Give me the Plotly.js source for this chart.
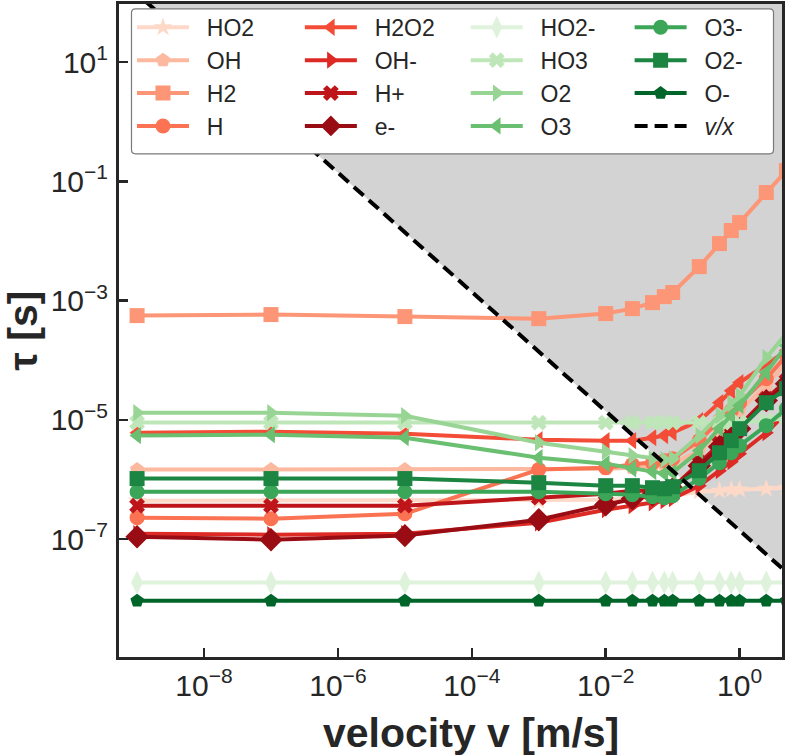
<!DOCTYPE html>
<html>
<head>
<meta charset="utf-8">
<script src="https://cdn.plot.ly/plotly-3.0.1.min.js"></script>
<style>
  html, body { margin: 0; padding: 0; background: #ffffff; }
  #chart { width: 789px; height: 755px; }
</style>
</head>
<body>
<div id="chart"></div>
<script>
// Flow velocity v [m/s] at which each species' time constant was evaluated
const velocity = [1e-9, 1e-7, 1e-5, 1e-3, 1e-2, 2.5e-2, 5e-2, 7.5e-2, 0.1, 0.25, 0.5, 0.75, 1, 2.5, 5];

// Characteristic time tau [s] of each species
const tauHO2  = [4.43e-7, 4.43e-7, 4.43e-7, 4.43e-7, 4.60e-7, 4.79e-7, 4.97e-7, 5.16e-7, 5.37e-7, 6.27e-7, 6.52e-7, 6.78e-7, 6.78e-7, 7.03e-7, 7.31e-7];
const tauOH   = [1.47e-6, 1.47e-6, 1.47e-6, 1.47e-6, 1.52e-6, 1.58e-6, 1.64e-6, 1.71e-6, 1.85e-6, 3.05e-6, 6.12e-6, 9.72e-6, 1.43e-5, 3.76e-5, 9.14e-5];
const tauH2   = [5.62e-4, 5.85e-4, 5.41e-4, 5.00e-4, 6.08e-4, 7.36e-4, 9.29e-4, 1.17e-3, 1.37e-3, 3.73e-3, 9.08e-3, 1.50e-2, 2.04e-2, 6.51e-2, 0.152];
const tauH    = [2.30e-7, 2.21e-7, 2.68e-7, 1.47e-6, 1.58e-6, 1.78e-6, 1.92e-6, 2.07e-6, 2.24e-6, 4.50e-6, 9.72e-6, 1.43e-5, 1.95e-5, 4.93e-5, 1.20e-4];
const tauH2O2 = [6.12e-6, 6.37e-6, 5.89e-6, 4.67e-6, 4.50e-6, 4.50e-6, 5.05e-6, 5.46e-6, 6.12e-6, 9.72e-6, 1.95e-5, 3.10e-5, 4.23e-5, 8.47e-5, 1.46e-4];
const tauOHm  = [1.24e-7, 1.19e-7, 1.24e-7, 1.89e-7, 3.13e-7, 3.65e-7, 4.09e-7, 4.43e-7, 4.79e-7, 7.91e-7, 1.41e-6, 2.00e-6, 2.72e-6, 6.12e-6, 1.32e-5];
const tauHp   = [3.65e-7, 3.65e-7, 3.65e-7, 4.97e-7, 5.79e-7, 6.52e-7, 6.52e-7, 6.52e-7, 7.31e-7, 1.92e-6, 4.00e-6, 5.89e-6, 8.02e-6, 2.28e-5, 4.56e-5];
const tauEm   = [1.10e-7, 9.82e-8, 1.15e-7, 2.12e-7, 3.79e-7, 4.79e-7, 5.58e-7, 6.03e-7, 7.03e-7, 1.71e-6, 3.56e-6, 5.25e-6, 7.14e-6, 2.11e-5, 4.06e-5];
const tauHO2m = [1.88e-8, 1.88e-8, 1.88e-8, 1.88e-8, 1.88e-8, 1.88e-8, 1.88e-8, 1.88e-8, 1.88e-8, 1.88e-8, 1.88e-8, 1.88e-8, 1.88e-8, 1.88e-8, 1.88e-8];
const tauHO3  = [9.02e-6, 9.02e-6, 9.02e-6, 9.02e-6, 9.02e-6, 9.02e-6, 9.02e-6, 9.02e-6, 9.02e-6, 9.02e-6, 9.02e-6, 9.02e-6, 9.02e-6, 9.72e-6, 1.09e-5];
const tauO2   = [1.32e-5, 1.32e-5, 1.18e-5, 4.16e-6, 2.94e-6, 2.52e-6, 2.24e-6, 2.16e-6, 2.24e-6, 5.46e-6, 1.18e-5, 1.87e-5, 2.56e-5, 1.11e-4, 2.81e-4];
const tauO3   = [5.46e-6, 5.66e-6, 5.05e-6, 2.33e-6, 1.85e-6, 1.52e-6, 1.36e-6, 1.26e-6, 1.31e-6, 3.05e-6, 7.14e-6, 1.18e-5, 1.74e-5, 6.22e-5, 1.77e-4];
const tauO3m  = [6.27e-7, 6.27e-7, 6.27e-7, 6.27e-7, 5.79e-7, 5.58e-7, 5.16e-7, 4.97e-7, 5.37e-7, 1.04e-6, 1.92e-6, 2.82e-6, 3.71e-6, 8.02e-6, 1.55e-5];
const tauO2m  = [1.04e-6, 1.04e-6, 1.04e-6, 8.87e-7, 7.91e-7, 7.91e-7, 7.31e-7, 7.03e-7, 7.60e-7, 1.41e-6, 2.82e-6, 4.50e-6, 7.14e-6, 1.95e-5, 3.35e-5];
const tauOm   = [9.29e-9, 9.29e-9, 9.29e-9, 9.29e-9, 9.29e-9, 9.29e-9, 9.29e-9, 9.29e-9, 9.29e-9, 9.29e-9, 9.29e-9, 9.29e-9, 9.29e-9, 9.29e-9, 9.29e-9];

// Transport time line (v/x) and the region above it
const vLine   = [1e-10, 10];
const tauLine = [1.4e3, 1.4e-8];
const vShade   = [1e-10, 10, 10];
const tauShade = [1.4e3, 1.4e-8, 1e3];

// Species names and the series drawn for them
const speciesNames = ['HO2', 'OH', 'H2', 'H', 'H2O2', 'OH-', 'H+', 'e-', 'HO2-', 'HO3', 'O2', 'O3', 'O3-', 'O2-', 'O-'];
const speciesTau = [tauHO2, tauOH, tauH2, tauH, tauH2O2, tauOHm, tauHp, tauEm, tauHO2m, tauHO3, tauO2, tauO3, tauO3m, tauO2m, tauOm];

// Axis ticks
const xTickVals = [1e-8, 1e-6, 1e-4, 1e-2, 1];
const xTickText = ['10<sup>−8</sup>', '10<sup>−6</sup>', '10<sup>−4</sup>', '10<sup>−2</sup>', '10<sup>0</sup>'];
const yTickVals = [1e1, 1e-1, 1e-3, 1e-5, 1e-7, 1e-9];
const yTickText = ['10<sup>1</sup>', '10<sup>−1</sup>', '10<sup>−3</sup>', '10<sup>−5</sup>', '10<sup>−7</sup>', '10<sup>−9</sup>'];

// Styling: Reds for neutral/positive species, Greens for the oxygen anions
const colors = ['#fed9c8', '#fcb99f', '#fc9676', '#fb7353', '#f34c37', '#dd2a25', '#be151a', '#990c13',
                '#dff3dc', '#bfe6b9', '#98d594', '#6abf71', '#3ba558', '#1c8542', '#006529'];
const symbols = ['star', 'pentagon', 'square', 'circle', 'triangle-left', 'triangle-right', 'x', 'diamond',
                 'diamond-tall', 'x', 'triangle-right', 'triangle-left', 'circle', 'square', 'pentagon'];
const sizes = [14, 15, 15, 15, 15, 15, 14, 18, 17, 14, 15, 15, 15, 15, 14];
const legendIds = ['legend', 'legend', 'legend', 'legend', 'legend2', 'legend2', 'legend2', 'legend2',
                   'legend3', 'legend3', 'legend3', 'legend3', 'legend4', 'legend4', 'legend4'];

const FONT = 'Liberation Sans, Arial, Helvetica, sans-serif';
const INK = '#262626';
const PAD = '\u00a0\u00a0';   // gap between legend handle and label

const traces = [];

// shaded region where transport is faster than the species' time constant
traces.push({
  x: vShade, y: tauShade, type: 'scatter', mode: 'lines',
  fill: 'toself', fillcolor: '#d3d3d3', line: {width: 0, color: '#d3d3d3'},
  showlegend: false, hoverinfo: 'skip'
});

speciesNames.forEach((name, i) => {
  traces.push({
    x: velocity, y: speciesTau[i], name: PAD + name,
    type: 'scatter', mode: 'lines+markers',
    line: {color: colors[i], width: 4},
    marker: {color: colors[i], symbol: symbols[i], size: sizes[i], line: {width: 0}},
    legend: legendIds[i]
  });
});

traces.push({
  x: vLine, y: tauLine, name: PAD + '<i>v/x</i>',
  type: 'scatter', mode: 'lines',
  line: {color: '#000000', width: 4, dash: '13px,7px'},
  legend: 'legend4'
});

// plot area in pixels, used to place the legend columns and titles
const plotL = 119, plotR = 782.5, plotT = 4.2, plotB = 657;
const W = 789, H = 755;
const px = v => (v - plotL) / (plotR - plotL);
const py = v => (plotB - v) / (plotB - plotT);

const legendBase = {
  xanchor: 'left', yanchor: 'top', orientation: 'v',
  bgcolor: 'rgba(0,0,0,0)', borderwidth: 0,
  font: {family: FONT, size: 23, color: INK},
  itemwidth: 52
};
const colLeft = [132, 300, 466, 630];
const legTop = py(6);

// legend frame with rounded corners
const bx0 = px(131.5), bx1 = px(774), by0 = py(154), by1 = py(9);
const rx = 4 / (plotR - plotL), ry = 4 / (plotB - plotT);
const framePath = `M ${bx0 + rx},${by1} L ${bx1 - rx},${by1} Q ${bx1},${by1} ${bx1},${by1 - ry} ` +
  `L ${bx1},${by0 + ry} Q ${bx1},${by0} ${bx1 - rx},${by0} L ${bx0 + rx},${by0} ` +
  `Q ${bx0},${by0} ${bx0},${by0 + ry} L ${bx0},${by1 - ry} Q ${bx0},${by1} ${bx0 + rx},${by1} Z`;

const axisCommon = {
  type: 'log', showline: true, linewidth: 3, linecolor: INK, mirror: true,
  ticks: 'inside', ticklen: 9, tickwidth: 2.5, tickcolor: INK,
  showgrid: false, zeroline: false,
  tickfont: {family: FONT, size: 30, color: INK}
};

const layout = {
  width: W, height: H,
  margin: {l: plotL, r: W - plotR, t: plotT, b: H - plotB, pad: 0},
  paper_bgcolor: '#ffffff', plot_bgcolor: '#ffffff',
  font: {family: FONT, color: INK},
  showlegend: true,
  xaxis: Object.assign({}, axisCommon, {
    range: [-9.270, 0.633],
    tickmode: 'array', tickvals: xTickVals, ticktext: xTickText
  }),
  yaxis: Object.assign({}, axisCommon, {
    range: [-8.975, 1.975],
    tickmode: 'array', tickvals: yTickVals, ticktext: yTickText,
    ticklabelstandoff: 2,
    title: {text: 'τ [s]', font: {family: FONT, size: 41, color: INK, weight: 'bold'}, standoff: 6}
  }),
  annotations: [{
    text: 'velocity v [m/s]', xref: 'paper', yref: 'paper',
    x: px(471), y: py(733), xanchor: 'center', yanchor: 'middle', showarrow: false,
    font: {family: FONT, size: 41, color: INK, weight: 'bold'}
  }],
  legend:  Object.assign({}, legendBase, {x: px(colLeft[0]), y: legTop}),
  legend2: Object.assign({}, legendBase, {x: px(colLeft[1]), y: legTop}),
  legend3: Object.assign({}, legendBase, {x: px(colLeft[2]), y: legTop}),
  legend4: Object.assign({}, legendBase, {x: px(colLeft[3]), y: legTop}),
  shapes: [{
    type: 'path', xref: 'paper', yref: 'paper', layer: 'above',
    path: framePath, fillcolor: '#ffffff', line: {color: '#7a7a7a', width: 1.2}
  }]
};

Plotly.newPlot('chart', traces, layout, {staticPlot: true, displayModeBar: false});
</script>
</body>
</html>
